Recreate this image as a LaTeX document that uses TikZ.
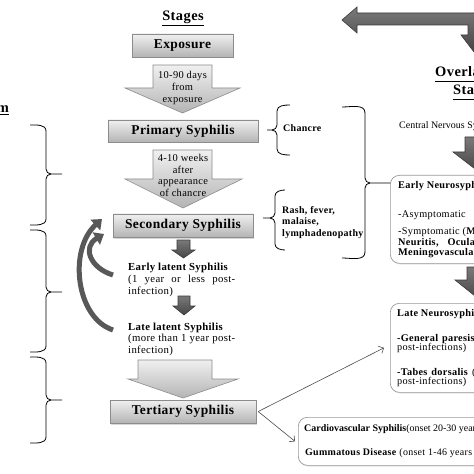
\documentclass[tikz,border=0pt]{standalone}
\usepackage{fontspec}
\setmainfont{Liberation Serif}[LetterSpace=3]
\usetikzlibrary{shadows,arrows.meta}
\definecolor{boxtop}{HTML}{F0F0F0}
\definecolor{boxbot}{HTML}{B4B4B4}
\definecolor{boxline}{HTML}{8C8C8C}
\definecolor{darkA}{HTML}{7A7A7A}
\definecolor{darkB}{HTML}{454545}
\definecolor{darkline}{HTML}{3A3A3A}
\newcommand{\fsBox}{\fontsize{13.5}{15}\selectfont\bfseries}
\newcommand{\fsTitle}{\fontsize{14.5}{16}\selectfont\bfseries}
\newcommand{\fsArr}{\fontsize{10.5}{11.6}\selectfont}
\newcommand{\fsLat}{\fontsize{10.8}{12}\selectfont}
\newcommand{\fsR}{\fontsize{10.3}{11}\selectfont}
\newcommand{\fsC}{\fontsize{10}{11}\selectfont}
% right-opening brace "}" : #1 end x, #2 vertical x, #3 tip x, #4 top y, #5 mid y, #6 bottom y
\newcommand{\RBrc}[6]{%
  \draw[bracel] (#1,#4) to[out=0,in=90] (#2,{#4+6}) -- (#2,{#5-5}) to[out=-90,in=180] ({#2+5},#5) -- (#3,#5);
  \draw[bracel] ({#2+5},#5) to[out=180,in=90] (#2,{#5+5}) -- (#2,{#6-6}) to[out=-90,in=0] (#1,#6);}
% left-opening brace "{"
\newcommand{\LBrc}[6]{%
  \draw[bracel] (#1,#4) to[out=180,in=90] (#2,{#4+6}) -- (#2,{#5-5}) to[out=-90,in=0] ({#2-5},#5) -- (#3,#5);
  \draw[bracel] ({#2-5},#5) to[out=0,in=90] (#2,{#5+5}) -- (#2,{#6-6}) to[out=-90,in=180] (#1,#6);}
\begin{document}
\begin{tikzpicture}[x=1bp,y=-1bp,
  stagebox/.style={draw=boxline, top color=boxtop, bottom color=boxbot, font=\fsBox, inner sep=0,
    drop shadow={opacity=0.3,shadow xshift=1.2bp,shadow yshift=-1.5bp}},
  lightarrow/.style={draw=boxline, top color=boxtop, bottom color=boxbot, line width=0.6bp},
  darkarrow/.style={draw=darkline, top color=darkA, bottom color=darkB, line width=0.6bp},
  roundbox/.style={draw=gray!80, fill=white, rounded corners=9bp, line width=0.7bp, inner sep=0,
    drop shadow={opacity=0.2,shadow xshift=1bp,shadow yshift=-1.2bp}},
  bracel/.style={draw=black, line width=0.8bp},
  tl/.style={anchor=base west, inner sep=0},
  thinarrow/.style={draw=gray!60!black, line width=0.6bp, -{Straight Barb[length=4bp,width=8bp]}},
  curvarrow/.style={draw=darkline!85, line width=5bp, -{Triangle[width=14bp,length=9bp]}},
  title/.style={font=\fsTitle, inner sep=0}]
\useasboundingbox (0,0) rectangle (474,474);
\fill[white] (0,0) rectangle (474,474);
\clip (0,0) rectangle (474,474);

% ---------- titles ----------
\node[title, anchor=base] (stages) at (183,21) {\underline{Stages}};
\node[title, anchor=base east] (mm) at (9,113) {\underline{m}};
\node[title, anchor=base west] (ov1) at (435,76.5) {\underline{Overlapping}};
\node[title, anchor=base west] (ov2) at (453,94.5) {\underline{Stages}};

% ---------- central column ----------
\node[stagebox, minimum width=101bp, minimum height=23bp] (expo) at (182.5,45.5) {Exposure};
\path[lightarrow] (153,65) -- (212,65) -- (212,88) -- (240,88) -- (182.5,113) -- (125,88) -- (153,88) -- cycle;
\node[font=\fsArr, align=center, inner sep=0] (a1t) at (182.5,88) {10-90 days\\from\\exposure};

\node[stagebox, minimum width=150bp, minimum height=22bp] (prim) at (183,131) {Primary Syphilis};
\path[lightarrow] (153,150) -- (212,150) -- (212,179) -- (242,179) -- (183,208) -- (125,179) -- (153,179) -- cycle;
\node[font=\fsArr, align=center, inner sep=0] (a2t) at (183,175.5) {4-10 weeks\\after\\appearance\\of chancre};

\node[stagebox, minimum width=140bp, minimum height=23bp] (sec) at (183,225.5) {Secondary Syphilis};
\path[darkarrow] (177,240) -- (190,240) -- (190,250) -- (195,250) -- (183.5,258) -- (172,250) -- (177,250) -- cycle;

\node[tl, font=\fsLat\bfseries] (elt) at (128,270.5) {Early latent Syphilis};
\node[tl, font=\fsLat] (el2) at (128,282.5) {\makebox[107bp][s]{(1 year or less post-}};
\node[tl, font=\fsLat] (el3) at (128,294.5) {infection)};

\path[darkarrow] (178,296) -- (190,296) -- (190,306) -- (195,306) -- (184,315) -- (173,306) -- (178,306) -- cycle;

\node[tl, font=\fsLat\bfseries] (llt) at (128,330.5) {Late latent Syphilis};
\node[tl, font=\fsLat] (ll2) at (128,341.5) {\makebox[107bp][s]{(more than 1 year post-}};
\node[tl, font=\fsLat] (ll3) at (128,353.5) {infection)};

\path[lightarrow] (138,360) -- (212,360) -- (212,379) -- (238,379) -- (183,398) -- (128,379) -- (138,379) -- cycle;
\node[stagebox, minimum width=146bp, minimum height=23bp] (tert) at (183,411.5) {Tertiary Syphilis};

% ---------- curved arrows ----------
\coordinate (c1s) at (113,330);
\coordinate (c1e) at (102,219);
\coordinate (c2s) at (113,275);
\coordinate (c2e) at (104,234);
\draw[curvarrow] (c1s) .. controls (76,318) and (68,250) .. (c1e);
\draw[curvarrow] (c2s) .. controls (90,268) and (82,247) .. (c2e);

% ---------- left braces ----------
\RBrc{30}{46}{62}{125}{174}{225}
\RBrc{30}{46}{62}{230}{292}{352}
\RBrc{30}{46}{62}{357}{400}{443}

% ---------- symptoms ----------
\LBrc{290}{277}{267}{105}{130}{155}
\node[tl, font=\fsC\bfseries] (chan) at (283,131.5) {Chancre};
\LBrc{285}{275}{263}{190}{218}{250}
\node[tl, font=\fsC\bfseries] (rash1) at (282,213.5) {Rash, fever,};
\node[tl, font=\fsC\bfseries] (rash2) at (282,224.5) {malaise,};
\node[tl, font=\fsC\bfseries] (rash3) at (282,236.5) {lymphadenopathy};
\RBrc{342}{365}{392}{107}{183}{258}

% ---------- top elbow arrow ----------
\path[darkarrow] (342,20) -- (357,7) -- (357,13) -- (480,13) -- (480,35) -- (487,35) -- (474,52)
  -- (461,35) -- (468,35) -- (468,25) -- (357,25) -- (357,33) -- cycle;

% ---------- right column ----------
\node[tl, font=\fontsize{10}{11}\selectfont\addfontfeature{LetterSpace=0}] (cns) at (399,129) {Central Nervous System};
\path[darkarrow] (465,137) -- (493,137) -- (493,152) -- (505,152) -- (479,172) -- (453,152) -- (465,152) -- cycle;

\node[roundbox, anchor=north west, minimum width=140bp, minimum height=88bp] (earlyneuro) at (390,175) {};
\node[tl, font=\fsR\bfseries] (en1) at (398,188.5) {Early Neurosyphilis};
\node[tl, font=\fsR] (en2) at (398,217.5) {-Asymptomatic};
\node[tl, font=\fsR] (en3) at (398,234.5) {-Symptomatic (\textbf{Meningeal, Cranial}};
\node[tl, font=\fsR\bfseries] (en4) at (398,245.5) {Neuritis,\hspace{9bp}Ocular,};
\node[tl, font=\fsR\bfseries] (en6) at (398,255.5) {Meningovascular};

\path[darkarrow] (467,267) -- (493,267) -- (493,280) -- (505,280) -- (480,300) -- (455,280) -- (467,280) -- cycle;

\node[roundbox, anchor=north west, minimum width=140bp, minimum height=89bp] (lateneuro) at (390,303) {};
\node[tl, font=\fsR\bfseries] (ln1) at (397,316.5) {Late Neurosyphilis};
\node[tl, font=\fsR\bfseries] (ln2) at (397,341.5) {-General\hspace{4bp}paresis};
\node[tl, font=\fsR] (ln4) at (397,350.5) {post-infections)};
\node[tl, font=\fsR] (ln5) at (397,375.5) {\textbf{-Tabes\hspace{4bp}dorsalis}\hspace{4bp}(onset};
\node[tl, font=\fsR] (ln8) at (397,384.5) {post-infections)};

\node[roundbox, anchor=north west, minimum width=200bp, minimum height=48bp] (cardio) at (298,417) {};
\node[tl, font=\fontsize{10}{11}\selectfont\addfontfeature{LetterSpace=0}] (cv1) at (304,431.5) {\textbf{Cardiovascular Syphilis}(onset 20-30 years post-infection)};
\node[tl, font=\fsC] (gd1) at (305,455.5) {\textbf{Gummatous Disease}\ (onset 1-46 years post-infection)};

% ---------- thin arrows from tertiary ----------
\draw[thinarrow] ([xshift=2bp]tert.east) -- ([xshift=-6bp]lateneuro.west);
\draw[thinarrow] ([xshift=2bp]tert.east) -- ([xshift=-3bp]cardio.west);
\end{tikzpicture}
\end{document}
